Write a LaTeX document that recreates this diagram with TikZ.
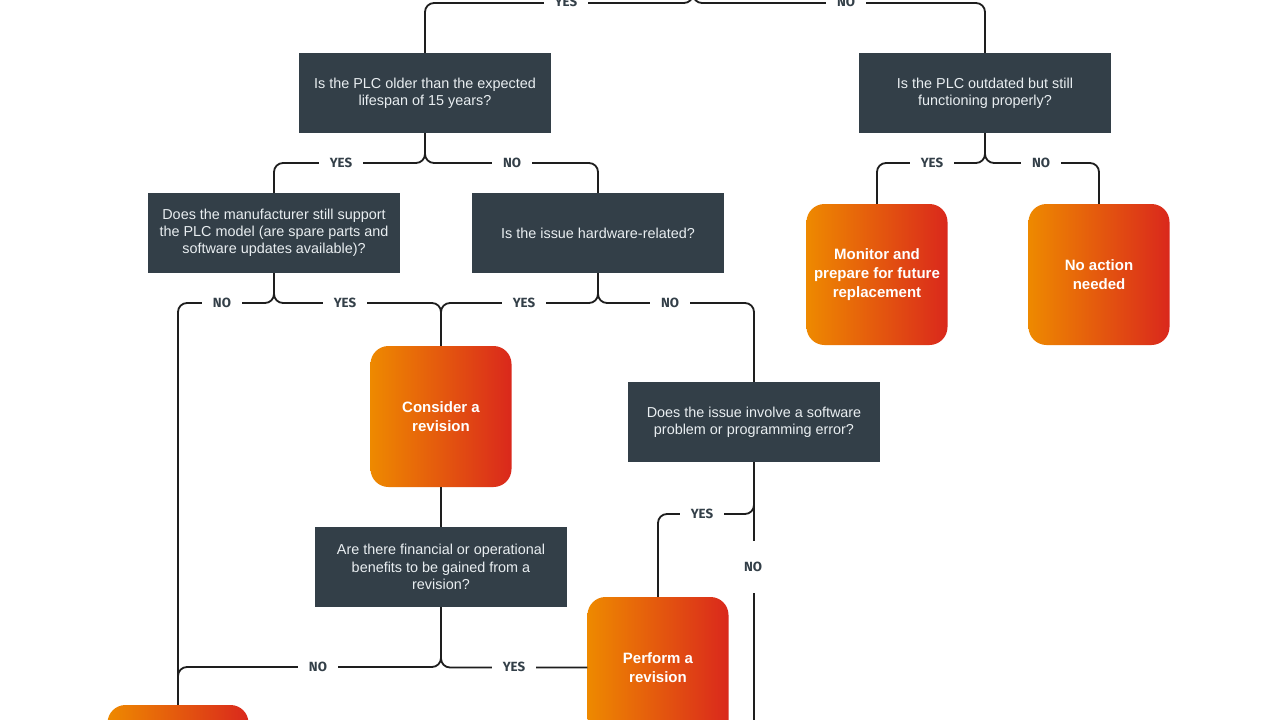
\documentclass[tikz,border=0pt]{standalone}
\usepackage{fontspec}
\setmainfont{Liberation Sans}
\newfontfamily\lblfamily{Fira Sans}
\definecolor{qbg}{HTML}{333F48}
\definecolor{qtxt}{HTML}{E9EEF1}
\definecolor{oga}{HTML}{EE8900}
\definecolor{ogb}{HTML}{DA281C}
\definecolor{lblc}{HTML}{333F48}
\definecolor{linec}{HTML}{1E1E1E}
\tikzset{
  qbox/.style={fill=qbg, minimum width=252, minimum height=80, inner sep=0, text=qtxt, align=center, font=\fontsize{14.4}{17.2}\selectfont},
  actbox/.style={rounded corners=18, left color=oga, right color=ogb, minimum width=141, minimum height=141, inner sep=0, text=white, align=center, font=\fontsize{15}{19}\selectfont\bfseries},
  conn/.style={draw=linec, line width=1.8, rounded corners=9},
  lbl/.style={fill=white, text=lblc, inner xsep=11, inner ysep=2, font=\lblfamily\fontsize{13.3}{15}\selectfont\bfseries}
}
\begin{document}
\begin{tikzpicture}[x=1pt,y=-1pt]
\clip (0,0) rectangle (1280,720);
\fill[white] (0,0) rectangle (1280,720);
% rows
\path (0,3) coordinate (r0) (0,163) coordinate (r1) (0,303) coordinate (r2)
      (0,514) coordinate (r3) (0,667) coordinate (r4) (0,780) coordinate (rb);
\coordinate (top) at (693,-40);
% questions
\node[qbox] (A) at (425,93) {Is the PLC older than the expected\\lifespan of 15 years?};
\node[qbox] (B) at (985,93) {Is the PLC outdated but still\\functioning properly?};
\node[qbox] (C) at (274,233) {Does the manufacturer still support\\the PLC model (are spare parts and\\software updates available)?};
\node[qbox] (D) at (598,233) {Is the issue hardware-related?};
\node[qbox] (H) at (754,422) {Does the issue involve a software\\problem or programming error?};
\node[qbox] (I) at (441,567) {Are there financial or operational\\benefits to be gained from a\\revision?};
% actions
\node[actbox] (E) at (877,274.5) {Monitor and\\prepare for future\\replacement};
\node[actbox] (F) at (1099,274.5) {No action\\needed};
\node[actbox] (G) at (441,416.5) {Consider a\\revision};
\node[actbox] (J) at (658,667.5) {Perform a\\revision};
\node[actbox] (K) at (178,775.5) {};
% connectors
\draw[conn] (top) |- (A.north |- r0) -- (A.north);
\draw[conn] (top) |- (B.north |- r0) -- (B.north);
\draw[conn] (A.south) |- (C.north |- r1) -- (C.north);
\draw[conn] (A.south) |- (D.north |- r1) -- (D.north);
\draw[conn] (B.south) |- (E.north |- r1) -- (E.north);
\draw[conn] (B.south) |- (F.north |- r1) -- (F.north);
\draw[conn] (C.south) |- (K.north |- r2) -- (K.north);
\draw[conn] (C.south) |- (G.north |- r2) -- (G.north);
\draw[conn] (D.south) |- (G.north |- r2) -- (G.north);
\draw[conn] (D.south) |- (H.north |- r2) -- (H.north);
\draw[conn] (G.south) -- (I.north);
\draw[conn] (I.south) |- (K.north |- r4) -- (K.north);
\draw[conn] (I.south) |- (J.west);
\draw[conn] (H.south) |- (J.north |- r3) -- (J.north);
\draw[conn] (H.south) -- (H.south |- rb);
% labels
\node[lbl] (l1) at (566,1.5) {YES};
\node[lbl] (l2) at (846,1.5) {NO};
\node[lbl] (l3) at (341,163) {YES};
\node[lbl] (l4) at (512,163) {NO};
\node[lbl] (l5) at (932,163) {YES};
\node[lbl] (l6) at (1041,163) {NO};
\node[lbl] (l7) at (222,303) {NO};
\node[lbl] (l8) at (345,303) {YES};
\node[lbl] (l9) at (524,303) {YES};
\node[lbl] (l10) at (670,303) {NO};
\node[lbl] (l11) at (702,514) {YES};
\node[lbl, inner ysep=21] (l12) at (753,567) {NO};
\node[lbl] (l13) at (318,667) {NO};
\node[lbl] (l14) at (514,667) {YES};
\end{tikzpicture}
\end{document}
